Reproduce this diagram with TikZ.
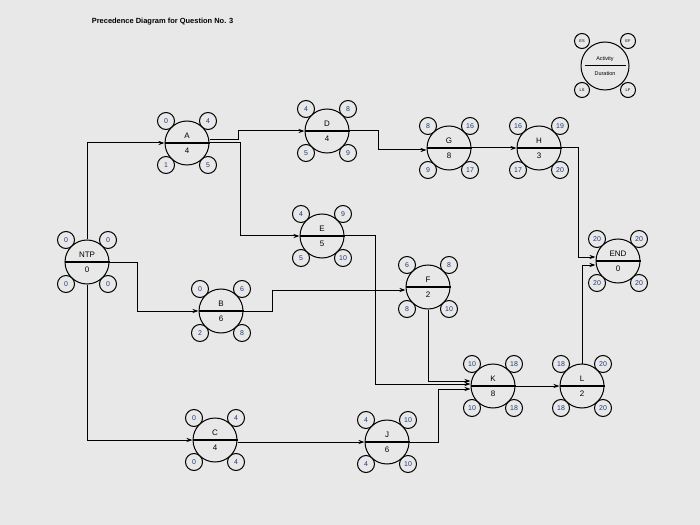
\documentclass[tikz,border=0pt]{standalone}
\usepackage{fontspec}
\setmainfont{Liberation Sans}
\usetikzlibrary{arrows.meta,calc}
\definecolor{num}{HTML}{1F3A7A}
\tikzset{
  x=1bp,y=-1bp,
  every picture/.style={line width=1bp},
  main/.style={circle,draw,line width=1bp,minimum size=44bp,inner sep=0},
  small/.style={circle,draw,line width=1bp,minimum size=17bp,inner sep=0,font=\fontsize{7}{7}\selectfont,text=num},
  lbl/.style={font=\fontsize{8}{8}\selectfont},
  con/.style={line width=1bp,-{Stealth[length=6bp,width=4bp]}},
}
\newcommand\actnode[9]{%
  \node[main] (#1) at (#2,#3) {};
  \node[lbl,anchor=south] (#1-n) at ($(#2,#3)+(0,-0.5)$) {#4};
  \node[lbl,anchor=north] (#1-d) at ($(#2,#3)+(0,1.5)$) {#5};
  \draw[line width=1.3bp] (#1.west) -- (#1.east);
  \node[small] (#1-es) at ($(#2,#3)+(-21,-22)$) {#6};
  \node[small] (#1-ef) at ($(#2,#3)+(21,-22)$) {#7};
  \node[small] (#1-ls) at ($(#2,#3)+(-21,22)$) {#8};
  \node[small] (#1-lf) at ($(#2,#3)+(21,22)$) {#9};
}
\begin{document}
\begin{tikzpicture}
\fill[black!9] (0,0) rectangle (700,525);
\useasboundingbox (0,0) rectangle (700,525);
\node[anchor=west,font=\bfseries\fontsize{7.5}{8}\selectfont] (title) at (88,22) {Precedence Diagram for Question No. 3};
% legend
\node[circle,draw,minimum size=48bp,inner sep=0] (leg) at (605,66) {};
\draw ($(leg.west)+(4,0)$) coordinate (lw) -- ($(leg.east)+(-4,0)$) coordinate (le);
\node[font=\fontsize{5.5}{5.5}\selectfont,anchor=south] (leg-n) at ($(leg.center)+(0,-0.5)$) {Activity};
\node[font=\fontsize{5.5}{5.5}\selectfont,anchor=north] (leg-d) at ($(leg.center)+(0,1.5)$) {Duration};
\node[circle,draw,minimum size=15bp,inner sep=0,font=\fontsize{4}{4}\selectfont] (leg-es) at (582,41) {ES};
\node[circle,draw,minimum size=15bp,inner sep=0,font=\fontsize{4}{4}\selectfont] (leg-ef) at (628,41) {EF};
\node[circle,draw,minimum size=15bp,inner sep=0,font=\fontsize{4}{4}\selectfont] (leg-ls) at (582,90) {LS};
\node[circle,draw,minimum size=15bp,inner sep=0,font=\fontsize{4}{4}\selectfont] (leg-lf) at (628,90) {LF};
% activities
\actnode{NTP}{87}{262}{NTP}{0}{0}{0}{0}{0}
\actnode{A}{187}{143}{A}{4}{0}{4}{1}{5}
\actnode{D}{327}{131}{D}{4}{4}{8}{5}{9}
\actnode{E}{322}{236}{E}{5}{4}{9}{5}{10}
\actnode{B}{221}{311}{B}{6}{0}{6}{2}{8}
\actnode{C}{215}{440}{C}{4}{0}{4}{0}{4}
\actnode{J}{387}{442}{J}{6}{4}{10}{4}{10}
\actnode{F}{428}{287}{F}{2}{6}{8}{8}{10}
\actnode{G}{449}{148}{G}{8}{8}{16}{9}{17}
\actnode{H}{539}{148}{H}{3}{16}{19}{17}{20}
\actnode{K}{493}{386}{K}{8}{10}{18}{10}{18}
\actnode{L}{582}{386}{L}{2}{18}{20}{18}{20}
\actnode{END}{618}{261}{END}{0}{20}{20}{20}{20}
% connectors
\draw[con] (NTP.north) |- (A.west);
\draw[con] (NTP.south) |- (C.west);
\draw[con] (NTP.east) -| (137,311) -- (B.west);
\draw[con] ($(A.east)+(0,-3)$) -- (238,140) -- (238,131) -- (D.west);
\draw[con] (A.east) -| (240,236) -- (E.west);
\draw[con] (D.east) -| (378,150) -- ($(G.west)+(0,2)$);
\draw[con] (G.east) -- (H.west);
\draw[con] (H.east) -| (578,257) -- ($(END.west)+(0,-4)$);
\draw[con] (L.north) |- ($(END.west)+(0,4)$);
\draw[con] (E.east) -| (375,384) -- ($(K.west)+(0,-2)$);
\draw[con] (B.east) -| (272,290) -- ($(F.west)+(0,3)$);
\draw[con] (F.south) |- ($(K.west)+(0,-5)$);
\draw[con] (J.east) -| (438,389) -- ($(K.west)+(0,3)$);
\draw[con] ($(C.east)+(0,2)$) -- (J.west);
\draw[con] (K.east) -- (L.west);
\end{tikzpicture}
\end{document}
